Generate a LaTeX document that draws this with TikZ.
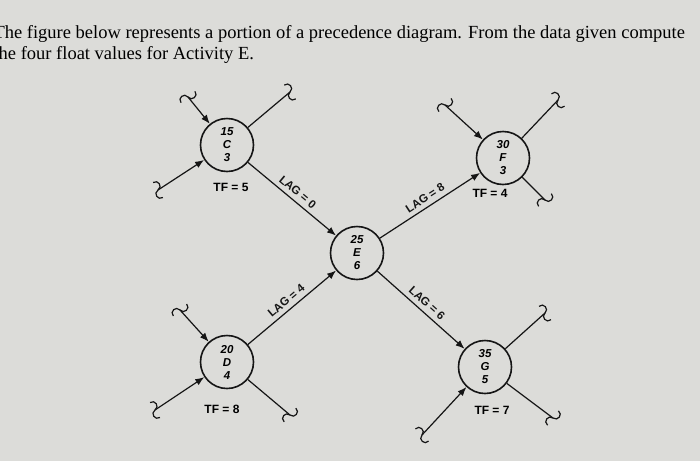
\documentclass[tikz,border=0pt]{standalone}
\usepackage{fontspec}
\setmainfont{Liberation Serif}
\setsansfont{Liberation Sans}
\usetikzlibrary{calc,arrows.meta}
\definecolor{bg}{HTML}{DCDCD9}
\definecolor{ink}{HTML}{151515}
\newcommand\tildeat[2]{%
  \path ($(#1)!9pt!90:(#2)$) coordinate (ta) ($(#1)!9pt!-90:(#2)$) coordinate (tb);
  \draw[ink,line width=1.2pt] (ta) .. controls ($(ta)!6pt!90:(#1)$) and ($(#1)!6pt!-90:(ta)$) .. (#1)
     .. controls ($(#1)!6pt!90:(ta)$) and ($(tb)!6pt!90:(#1)$) .. (tb);}
\begin{document}
\begin{tikzpicture}[x=1pt,y=-1pt,
  act/.style={circle,draw=ink,line width=1.6pt,fill=bg,minimum size=53pt,inner sep=0pt,align=center,
    font=\sffamily\bfseries\itshape\fontsize{11.5}{13}\selectfont},
  link/.style={ink,line width=1.2pt},
  arr/.style={link,-{Latex[length=9pt,width=7pt]}},
  lag/.style={font=\sffamily\bfseries\fontsize{11.5}{12}\selectfont,sloped,midway,above=1pt},
  tf/.style={font=\sffamily\bfseries\fontsize{12}{13}\selectfont}]
\fill[bg] (0,0) rectangle (700,461);
\useasboundingbox (0,0) rectangle (700,461);
\node[anchor=base west,font=\fontsize{18.5}{20}\selectfont] (t1) at (-10,38) {The figure below represents a portion of a precedence diagram. From the data given compute};
\node[anchor=base west,font=\fontsize{18.5}{20}\selectfont] (t2) at (-10,59) {the four float values for Activity E.};

\node[act] (C) at (227,145) {15\\C\\3};
\node[act] (F) at (503,158) {30\\F\\3};
\node[act] (E) at (357,253) {25\\E\\6};
\node[act] (D) at (227,362) {20\\D\\4};
\node[act] (G) at (485,367) {35\\G\\5};

\node[tf] (tfc) at (231,187) {TF = 5};
\node[tf] (tff) at (490,193) {TF = 4};
\node[tf] (tfd) at (222,409) {TF = 8};
\node[tf] (tfg) at (492,410) {TF = 7};

\draw[arr] (C) -- node[lag] (l0) {LAG = 0} (E);
\draw[arr] (D) -- node[lag] (l4) {LAG = 4} (E);
\draw[arr] (E) -- node[lag] (l8) {LAG = 8} (F);
\draw[arr] (E) -- node[lag] (l6) {LAG = 6} (G);

\coordinate (c1) at (188,97); \coordinate (c2) at (158,190); \coordinate (c3) at (290,92);
\coordinate (d1) at (180,310); \coordinate (d2) at (155,410); \coordinate (d3) at (290,415);
\coordinate (f1) at (445,105); \coordinate (f2) at (558,100); \coordinate (f3) at (545,200);
\coordinate (g2) at (422,435); \coordinate (g3) at (545,313); \coordinate (g4) at (553,418);

\draw[arr] (c1) -- (C); \draw[arr] (c2) -- (C); \draw[link] (C) -- (c3);
\draw[arr] (d1) -- (D); \draw[arr] (d2) -- (D); \draw[link] (D) -- (d3);
\draw[arr] (f1) -- (F); \draw[link] (F) -- (f2); \draw[link] (F) -- (f3);
\draw[arr] (g2) -- (G); \draw[link] (G) -- (g3); \draw[link] (G) -- (g4);

\tildeat{c1}{C}\tildeat{c2}{C}\tildeat{c3}{C}
\tildeat{d1}{D}\tildeat{d2}{D}\tildeat{d3}{D}
\tildeat{f1}{F}\tildeat{f2}{F}\tildeat{f3}{F}
\tildeat{g2}{G}\tildeat{g3}{G}\tildeat{g4}{G}
\end{tikzpicture}
\end{document}
